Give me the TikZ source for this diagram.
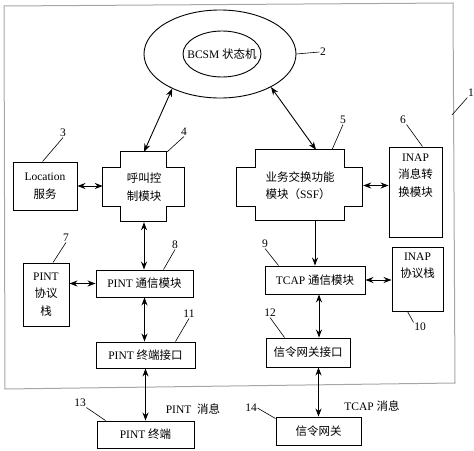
\documentclass[tikz,border=0pt]{standalone}
\usepackage{fontspec}
\setmainfont{Liberation Serif}
\newfontfamily\cjk{Noto Sans CJK SC}
\usetikzlibrary{shapes.geometric,arrows.meta,calc}
\newcommand\zh[1]{{\cjk #1}}
\newcommand\fs{\fontsize{11.5}{17.5}\selectfont}
\begin{document}
\begin{tikzpicture}[x=1pt,y=-1pt,
  line/.style={line width=0.9pt},
  box/.style={draw, line width=0.9pt, inner sep=0pt, font=\fs, align=center},
  ghost/.style={inner sep=0pt, font=\fs, align=center},
  num/.style={font=\fontsize{11.5}{13}\selectfont, inner sep=0.5pt},
  lead/.style={line width=0.6pt},
  dbl/.style={line width=0.9pt, {Stealth[length=8pt,width=6pt]}-{Stealth[length=8pt,width=6pt]}},
  sgl/.style={line width=0.9pt, -{Stealth[length=8pt,width=6pt]}}]
\useasboundingbox (0,0) rectangle (474,450);
% outer frame
\draw[gray!70, line width=1pt] (4,6) -- (453,3) -- (455,383) -- (5,389) -- cycle;
% ellipses
\node[draw, ellipse, line width=0.9pt, minimum width=152, minimum height=88, inner sep=0pt] (bcsmOuter) at (220,54) {};
\node[draw, ellipse, line width=0.9pt, minimum width=78, minimum height=46, inner sep=0pt, font=\fs] (bcsm) at (222,54) {\makebox[0pt][c]{BCSM \zh{状态机}}};
% boxes
\node[box, minimum width=64, minimum height=48] (loc) at (45,186) {Location\\\zh{服务}};
\node[ghost, minimum width=82, minimum height=70] (cc) at (144,187) {\zh{呼叫控}\\\zh{制模块}};
\node[ghost, minimum width=126, minimum height=71, align=left] (ssf) at (300,185.5) {\zh{业务交换功能}\\\zh{模块（}SSF\zh{）}};
\node[box, minimum width=53, minimum height=90] (inapconv) at (415.5,192) {};
\node[ghost, anchor=north] (inapconvtxt) at ([shift={(0,7)}]inapconv.north) {INAP\\\zh{消息转}\\\zh{换模块}};
\node[box, minimum width=46, minimum height=63] (pintproto) at (46,294.5) {PINT\\\zh{协议}\\\zh{栈}};
\node[box, minimum width=97, minimum height=27] (pintcomm) at (144.5,283.5) {PINT \zh{通信模块}};
\node[box, minimum width=99, minimum height=26] (pintif) at (145.5,355) {PINT \zh{终端接口}};
\node[box, minimum width=100, minimum height=28] (tcap) at (315,280) {TCAP \zh{通信模块}};
\node[box, minimum width=51, minimum height=64] (inapstack) at (417.5,279) {};
\node[ghost, anchor=north] (inapstacktxt) at ([shift={(0,6)}]inapstack.north) {INAP\\\zh{协议栈}};
\node[box, minimum width=84, minimum height=29] (sigif) at (308,352.5) {\zh{信令网关接口}};
\node[box, minimum width=97, minimum height=27] (pintterm) at (145.5,434.5) {PINT \zh{终端}};
\node[box, minimum width=85, minimum height=28] (siggw) at (318.5,431) {\zh{信令网关}};
% cross outlines
\draw[line] ([shift={(18,0)}]cc.north west) -- ++(46,0) -- ++(0,16) -- ++(18,0) -- ++(0,39) -- ++(-18,0) -- ++(0,15) -- ++(-46,0) -- ++(0,-15) -- ++(-18,0) -- ++(0,-39) -- ++(18,0) -- cycle;
\draw[line] ([shift={(19,0)}]ssf.north west) -- ++(89,0) -- ++(0,18) -- ++(18,0) -- ++(0,39) -- ++(-18,0) -- ++(0,14) -- ++(-89,0) -- ++(0,-14) -- ++(-19,0) -- ++(0,-39) -- ++(19,0) -- cycle;
% connectors
\draw[dbl] (cc.north) -- (bcsmOuter.216);
\draw[dbl] ([shift={(16,0)}]ssf.north) -- (bcsmOuter.327);
\draw[dbl] (loc.east) -- (cc.west |- loc.east);
\draw[dbl] (cc.south) -- (cc.south |- pintcomm.north);
\draw[dbl] (pintcomm.west -| pintproto.east) -- (pintcomm.west);
\draw[dbl] (pintcomm.south) -- (pintcomm.south |- pintif.north);
\draw[dbl] (pintif.south) -- (pintif.south |- pintterm.north);
\draw[dbl] (ssf.east) -- (inapconv.west |- ssf.east);
\draw[sgl] (ssf.south -| tcap.north) -- (tcap.north);
\draw[dbl] (tcap.east) -- (tcap.east -| inapstack.west);
\draw[dbl] ([shift={(4,0)}]tcap.south) -- ([shift={(4,0)}]tcap.south |- sigif.north);
\draw[dbl] (siggw.north |- sigif.south) -- (siggw.north);
% message labels
\node[ghost] (pintmsg) at (193,409) {PINT\ \ \zh{消息}};
\node[ghost] (tcapmsg) at (372,406) {TCAP \zh{消息}};
% number labels and leaders
\node[num] (n1) at (471,93) {1};
\draw[lead] (452,115) -- (n1.south west);
\node[num] (n2) at (323,52) {2};
\draw[lead] (bcsmOuter.east) -- (n2.west);
\node[num] (n3) at (63,133) {3};
\draw[lead] ([shift={(30,0)}]loc.north west) -- (n3.south);
\node[num] (n4) at (184,132) {4};
\draw[lead] ([shift={(-18,0)}]cc.north east) -- (n4.south);
\node[num] (n5) at (343,120) {5};
\draw[lead] ([shift={(32,0)}]ssf.north) -- (n5.south);
\node[num] (n6) at (403,120) {6};
\draw[lead] ([shift={(7,0)}]inapconv.north) -- (n6.south east);
\node[num] (n7) at (66,238) {7};
\draw[lead] ([shift={(7,0)}]pintproto.north) -- (n7.south);
\node[num] (n8) at (175,245) {8};
\draw[lead] ([shift={(19,0)}]pintcomm.north) -- (n8.south);
\node[num] (n9) at (265,244) {9};
\draw[lead] ([shift={(14,0)}]tcap.north west) -- (n9.south);
\node[num] (n10) at (420,327) {10};
\draw[lead] ([shift={(-10,0)}]inapstack.south) -- (n10.north west);
\node[num] (n11) at (189,314) {11};
\draw[lead] ([shift={(30,0)}]pintif.north) -- (n11.south);
\node[num] (n12) at (270,313) {12};
\draw[lead] ([shift={(19,0)}]sigif.north west) -- (n12.south);
\node[num] (n13) at (80,403) {13};
\draw[lead] ([shift={(9,0)}]pintterm.north west) -- (n13.south east);
\node[num] (n14) at (251,408) {14};
\draw[lead] ([shift={(0,2)}]siggw.north west) -- (n14.east);
\end{tikzpicture}
\end{document}
